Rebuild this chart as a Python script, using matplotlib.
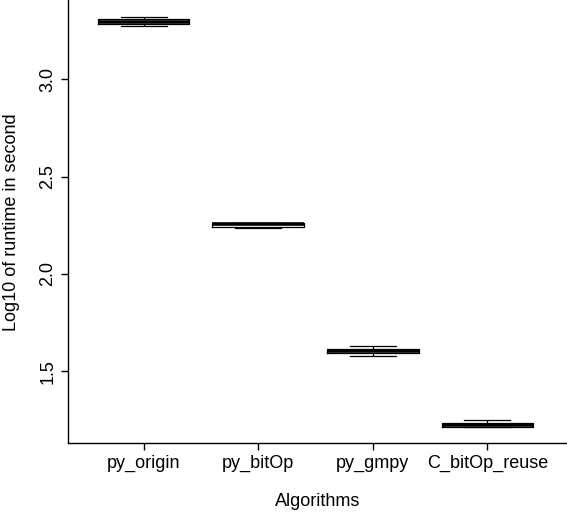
import matplotlib
matplotlib.use("Agg")
import matplotlib.pyplot as plt

plt.rcParams['font.family'] = ['Liberation Sans', 'DejaVu Sans']

categories = ["py_origin", "py_bitOp", "py_gmpy", "C_bitOp_reuse"]
whis_low = [3.272, 2.234, 1.580, 1.214]
q1 = [3.286, 2.243, 1.593, 1.216]
medians = [3.296, 2.254, 1.603, 1.224]
q3 = [3.310, 2.260, 1.615, 1.233]
whis_high = [3.321, 2.262, 1.627, 1.251]
yticks = [1.5, 2.0, 2.5, 3.0]

W, H = 567, 512
fig = plt.figure(figsize=(W / 100, H / 100), dpi=100)
left, right, bottom, top = 68, 567, 443.3, 0.3
ax = fig.add_axes([left / W, (H - bottom) / H, (right - left) / W, (bottom - top) / H])

stats = []
for i, c in enumerate(categories):
    stats.append(dict(label=c, whislo=whis_low[i], q1=q1[i], med=medians[i],
                      q3=q3[i], whishi=whis_high[i], fliers=[]))

ax.bxp(stats, positions=range(1, len(categories) + 1), widths=0.8,
       capwidths=0.4, showfliers=False,
       boxprops=dict(color='black', linewidth=0.9),
       medianprops=dict(color='black', linewidth=2.6, solid_capstyle='butt'),
       whiskerprops=dict(color='black', linewidth=0.9, linestyle=(0, (3, 3))),
       capprops=dict(color='black', linewidth=0.9))

ymin = min(whis_low)
ymax = max(whis_high)
pad = (ymax - ymin) * 0.04
ax.set_ylim(ymin - pad, ymax + pad)
# R-style x range (0.5..n+0.5 widened by 4%), the plot region runs slightly past the image edge
ax.set_xlim(0.5 - 0.16, len(categories) + 0.5 + 0.16 + 0.035)

ax.set_yticks(yticks)
ax.set_yticklabels([f"{v:.1f}" for v in yticks], rotation=90, va='center')
ax.set_xticks(range(1, len(categories) + 1))
ax.set_xticklabels(categories)

for s in ['top', 'right']:
    ax.spines[s].set_visible(False)
for s in ['left', 'bottom']:
    ax.spines[s].set_linewidth(1.0)

ax.tick_params(axis='both', direction='out', length=5.3, width=1.0,
               labelsize=13, colors='black')
ax.tick_params(axis='x', pad=3)
ax.tick_params(axis='y', pad=3)

ax.set_xlabel("Algorithms", fontsize=13, labelpad=15)
ax.set_ylabel("Log10 of runtime in second", fontsize=13, labelpad=14)

fig.savefig("out.png", dpi=100)
